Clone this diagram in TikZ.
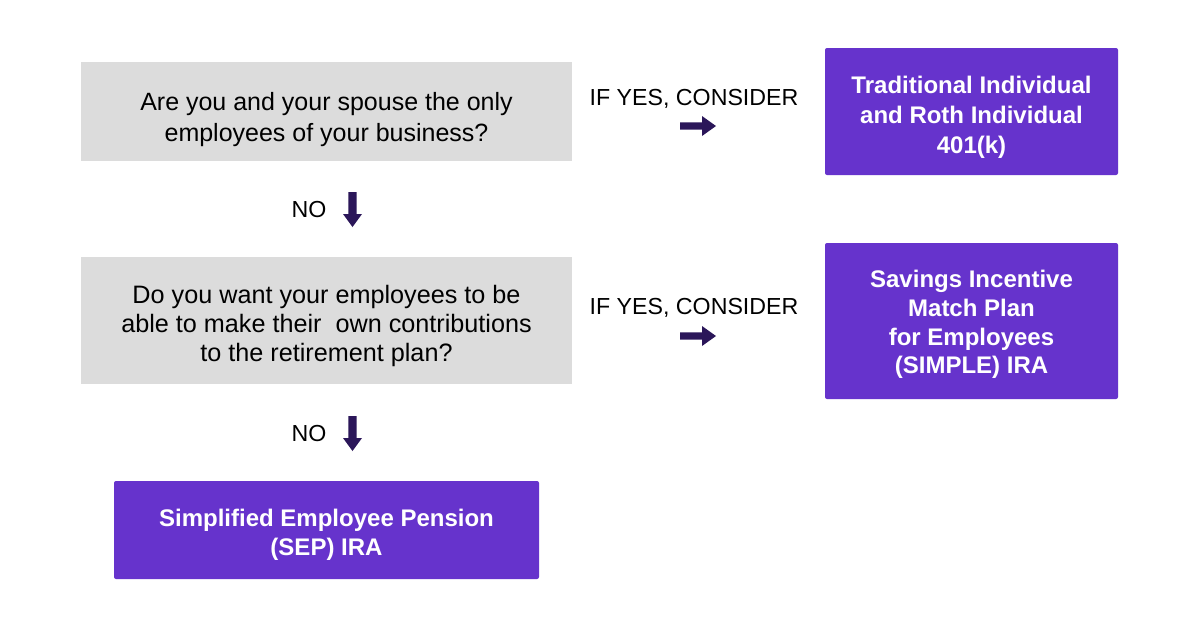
\documentclass[tikz,border=0pt]{standalone}
\usepackage{fontspec}
\setmainfont{Liberation Sans}
\definecolor{qgray}{HTML}{DCDCDC}
\definecolor{plum}{HTML}{6633CC}
\definecolor{arrowink}{HTML}{2B1659}
\begin{document}
\begin{tikzpicture}[x=0.5pt,y=-0.5pt,
  qbox/.style={rectangle, fill=qgray, inner sep=0pt},
  abox/.style={rectangle, fill=plum, rounded corners=1pt, inner sep=0pt},
  qtext/.style={inner sep=0pt, align=center, text=black},
  atext/.style={inner sep=0pt, align=center, text=white,
    font=\fontsize{12pt}{14.7pt}\selectfont\bfseries},
  label/.style={inner sep=0pt, font=\fontsize{11.6pt}{14.5pt}\selectfont, text=black},
  rarrow/.pic={\fill[arrowink] (0,-3.7) -- (22,-3.7) -- (22,-10) -- (36,0) -- (22,10) -- (22,3.7) -- (0,3.7) -- cycle;},
  darrow/.pic={\fill[arrowink] (-4.2,0) -- (4.2,0) -- (4.2,22) -- (9.5,22) -- (0,35) -- (-9.5,22) -- (-4.2,22) -- cycle;}
]
\useasboundingbox (0,0) rectangle (1200,628);
\fill[white] (0,0) rectangle (1200,628);

\node[qbox, minimum width=245.5pt, minimum height=49.5pt] (q1) at (326.5,111.5) {};
\node[qtext, font=\fontsize{12.5pt}{15.6pt}\selectfont] (q1t) at ([yshift=-4pt]q1.center)
  {Are you and your spouse the only\\employees of your business?};
\node[qbox, minimum width=245.5pt, minimum height=63.5pt] (q2) at (326.5,320.5) {};
\node[qtext, font=\fontsize{12.6pt}{14.3pt}\selectfont] (q2t) at ([yshift=-2.75pt]q2.center)
  {Do you want your employees to be\\able to make their\ \ own contributions\\to the retirement plan?};

\node[abox, minimum width=146.5pt, minimum height=63.5pt] (r1) at (971.5,111.5) {};
\node[atext, font=\fontsize{12pt}{15pt}\selectfont\bfseries] (r1t) at ([yshift=-3pt]r1.center)
  {Traditional Individual\\and Roth Individual\\401(k)};
\node[abox, minimum width=146.5pt, minimum height=78pt] (r2) at (971.5,321) {};
\node[atext, font=\fontsize{12pt}{14.4pt}\selectfont\bfseries] (r2t) at ([yshift=-1.75pt]r2.center)
  {Savings Incentive\\Match Plan\\for Employees\\(SIMPLE) IRA};
\node[abox, minimum width=212.5pt, minimum height=49pt] (r3) at (326.5,530) {};
\node[atext, font=\fontsize{12pt}{14.5pt}\selectfont\bfseries] (r3t) at ([yshift=-2.5pt]r3.center)
  {Simplified Employee Pension\\(SEP) IRA};

\node[label] (y1) at (694,99) {IF YES, CONSIDER};
\node[label] (y2) at (694,308) {IF YES, CONSIDER};
\node[label] (n1) at (309,210) {NO};
\node[label] (n2) at (309,434) {NO};

\pic at (680,126) {rarrow};
\pic at (680,336) {rarrow};
\pic at (352.5,192) {darrow};
\pic at (352.5,416) {darrow};
\end{tikzpicture}
\end{document}
